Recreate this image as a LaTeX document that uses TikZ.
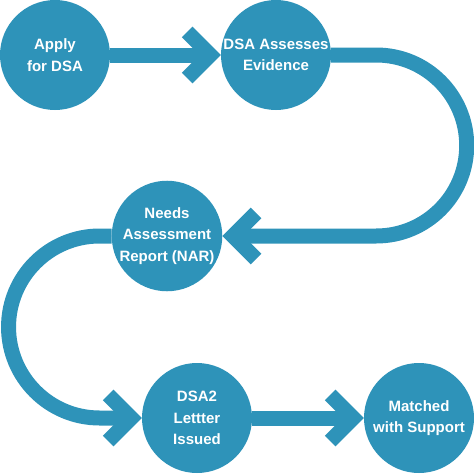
\documentclass[tikz,border=0pt]{standalone}
\usepackage{fontspec}
\setmainfont{Liberation Sans}
\definecolor{dsablue}{RGB}{46,147,185}
\tikzset{
  stage/.style={circle, fill=dsablue, minimum size=110pt, inner sep=0pt,
    text=white, align=center, font=\fontsize{15}{21.5}\selectfont\bfseries},
  flow/.style={draw=dsablue, line width=15pt},
  chevron/.pic={\draw[flow, line join=miter] (-23,23) -- (0,0) -- (-23,-23);}
}

\begin{document}
\begin{tikzpicture}[x=1pt, y=1pt]
\useasboundingbox (0,0) rectangle (474,-474);
\node(apply)[stage] at (55,-55) {Apply\\for DSA};
\node(assess)[stage] at (276,-55) {DSA Assesses\\Evidence};
\node(nar)[stage] at (167,-236) {Needs\\Assessment\\Report (NAR)};
\node(letter)[stage] at (197,-418) {DSA2\\Lettter\\Issued};
\node(match)[stage] at (419,-418) {Matched\\with Support};

\draw[flow] (apply.east) -- ([xshift=-10.6pt]assess.west);
\pic at ([xshift=-10.6pt]assess.west) {chevron};
\draw[flow] (assess.east) -- ++(45,0) arc[start angle=90, end angle=-90, radius=90.5] -- ([xshift=10.6pt]nar.east);
\pic[rotate=180] at ([xshift=10.6pt]nar.east) {chevron};
\draw[flow] (nar.west) -- ++(-12,0) arc[start angle=90, end angle=270, radius=91] -- ([xshift=-10.6pt]letter.west);
\pic at ([xshift=-10.6pt]letter.west) {chevron};
\draw[flow] (letter.east) -- ([xshift=-10.6pt]match.west);
\pic at ([xshift=-10.6pt]match.west) {chevron};
\end{tikzpicture}
\end{document}
